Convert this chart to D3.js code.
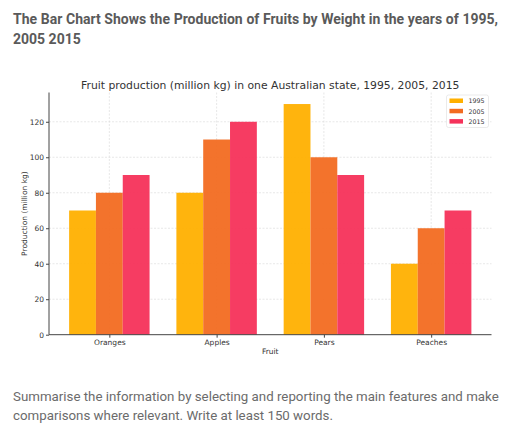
<!DOCTYPE html>
<html>
<head>
<meta charset="utf-8">
<script src="https://cdn.jsdelivr.net/npm/d3@7"></script>
<style>
  body { margin: 0; background: #fff; font-family: Roboto, "Noto Sans", sans-serif; }
  .heading { position: absolute; left: 13px; top: 9px; width: 485px; font-size: 14px; font-weight: bold; color: #5a5a5a; line-height: 20px; }
  .heading .l1 { display: block; white-space: nowrap; text-align: justify; text-align-last: justify; }
  .task { position: absolute; left: 13px; top: 387px; width: 490px; font-size: 13.3px; color: #6b6b6b; line-height: 19px; white-space: nowrap; }
  svg { position: absolute; left: 0; top: 0; }
  text { font-family: "DejaVu Sans", sans-serif; fill: #333; }
</style>
</head>
<body>
<div class="heading"><span class="l1">The Bar Chart Shows the Production of Fruits by Weight in the years of 1995,</span>2005 2015</div>
<svg id="chart" width="512" height="380"></svg>
<div class="task">Summarise the information by selecting and reporting the main features and make<br>comparisons where relevant. Write at least 150 words.</div>
<script>
let fruits = ["Oranges", "Apples", "Pears", "Peaches"];
let years = ["1995", "2005", "2015"];
let values1995 = [70, 80, 130, 40];
let values2005 = [80, 110, 100, 60];
let values2015 = [90, 120, 90, 70];
let yTicks = [0, 20, 40, 60, 80, 100, 120];
let colors = ["#ffb000", "#f26b21", "#f5325a"];

let series = [values1995, values2005, values2015];

let plotLeft = 49, plotRight = 491.5, plotTop = 92.5, plotBottom = 334.7;

let svg = d3.select("#chart");

// linear x scale in category units, like matplotlib
let x = d3.scaleLinear().domain([-0.5625, fruits.length - 1 + 0.5625]).range([plotLeft, plotRight]);
let y = d3.scaleLinear().domain([0, 136.5]).range([plotBottom, plotTop]);
let barW = 0.25;

// grid
svg.append("g").selectAll("line")
    .data(yTicks.slice(1))
    .enter().append("line")
    .attr("x1", plotLeft).attr("x2", plotRight)
    .attr("y1", d => y(d)).attr("y2", d => y(d))
    .attr("stroke", "#d6d6d6").attr("stroke-width", 0.6).attr("stroke-dasharray", "2,1.5");

svg.append("g").selectAll("line")
    .data(fruits)
    .enter().append("line")
    .attr("x1", (d, i) => x(i)).attr("x2", (d, i) => x(i))
    .attr("y1", plotTop).attr("y2", plotBottom)
    .attr("stroke", "#d6d6d6").attr("stroke-width", 0.6).attr("stroke-dasharray", "2,1.5");

// bars
series.forEach(function(vals, s) {
    svg.append("g").selectAll("rect")
        .data(vals)
        .enter().append("rect")
        .attr("x", (d, i) => x(i + (s - 1) * barW - barW / 2))
        .attr("width", x(barW) - x(0))
        .attr("y", d => y(d))
        .attr("height", d => y(0) - y(d))
        .attr("fill", colors[s])
        .attr("fill-opacity", 0.95);
});

// axes
let yAxis = d3.axisLeft(y).tickValues(yTicks).tickSize(3).tickPadding(2);
let gy = svg.append("g").attr("transform", "translate(" + plotLeft + ",0)").call(yAxis);
gy.select(".domain").attr("d", "M0," + plotTop + "V" + plotBottom).attr("stroke", "#444");
gy.selectAll("line").attr("stroke", "#444");
gy.selectAll("text").attr("font-size", 7.5).attr("fill", "#333").attr("font-family", "DejaVu Sans");

let xAxis = d3.axisBottom(x).tickValues(d3.range(fruits.length)).tickFormat(i => fruits[i]).tickSize(3).tickPadding(1.5);
let gx = svg.append("g").attr("transform", "translate(0," + plotBottom + ")").call(xAxis);
gx.select(".domain").attr("d", "M" + plotLeft + ",0H" + plotRight).attr("stroke", "#444");
gx.selectAll("line").attr("stroke", "#444");
gx.selectAll("text").attr("font-size", 7.5).attr("fill", "#333").attr("font-family", "DejaVu Sans");

// labels
svg.append("text")
    .attr("x", (plotLeft + plotRight) / 2).attr("y", 88.5)
    .attr("text-anchor", "middle").attr("font-size", 10.8).attr("fill", "#222")
    .text("Fruit production (million kg) in one Australian state, 1995, 2005, 2015");

svg.append("text")
    .attr("x", (plotLeft + plotRight) / 2).attr("y", 354)
    .attr("text-anchor", "middle").attr("font-size", 7.5)
    .text("Fruit");

svg.append("text")
    .attr("transform", "translate(27," + ((plotTop + plotBottom) / 2) + ") rotate(-90)")
    .attr("text-anchor", "middle").attr("font-size", 7.5)
    .text("Production (million kg)");

// legend
let legend = svg.append("g").attr("transform", "translate(446.5,95)");
legend.append("rect")
    .attr("width", 42).attr("height", 32.5).attr("rx", 2)
    .attr("fill", "#fff").attr("fill-opacity", 0.85)
    .attr("stroke", "#ddd").attr("stroke-width", 0.6);
years.forEach(function(yr, i) {
    legend.append("rect")
        .attr("x", 3).attr("y", 3.5 + i * 10.3)
        .attr("width", 13.5).attr("height", 4.5)
        .attr("fill", colors[i]);
    legend.append("text")
        .attr("x", 22).attr("y", 8.3 + i * 10.3)
        .attr("font-size", 6.3)
        .text(yr);
});
</script>
</body>
</html>
